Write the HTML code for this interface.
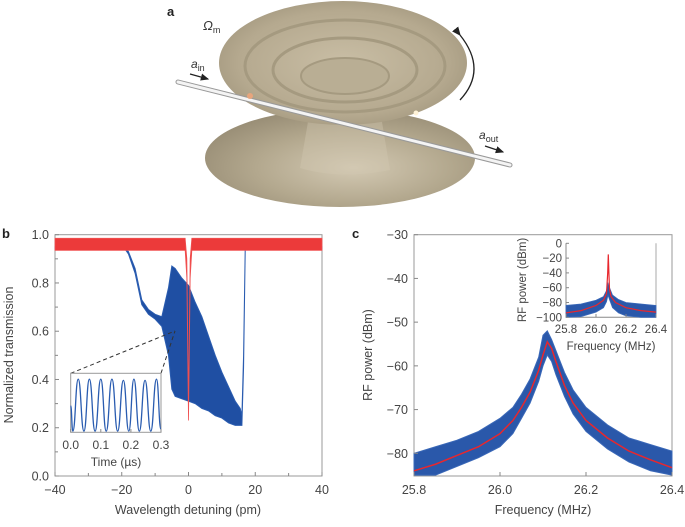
<!DOCTYPE html>
<html><head><meta charset="utf-8">
<style>
html,body{margin:0;padding:0;background:#fff;}
svg text{font-family:"Liberation Sans",sans-serif;fill:#444;}
</style></head>
<body>
<svg id="fig" width="685" height="522" viewBox="0 0 685 522" xmlns="http://www.w3.org/2000/svg">
<defs>
<radialGradient id="topg" cx="0.5" cy="0.5" r="0.6"><stop offset="0" stop-color="#c9bea5"/><stop offset="0.7" stop-color="#b5a98f"/><stop offset="1" stop-color="#9e937a"/></radialGradient>
<radialGradient id="botg" cx="0.55" cy="0.6" r="0.6"><stop offset="0" stop-color="#d3c9b3"/><stop offset="0.6" stop-color="#b3a88e"/><stop offset="1" stop-color="#9a8f77"/></radialGradient>
<marker id="ah" markerWidth="8" markerHeight="8" refX="6" refY="4" orient="auto"><path d="M0,1 L7,4 L0,7 Z" fill="#222"/></marker>
</defs>
<g>
<text x="167" y="16" font-size="13" font-weight="bold" style="fill:#222">a</text>
<ellipse cx="340" cy="158" rx="135" ry="49" fill="url(#botg)"/>
<path d="M310,110 Q340,100 380,110 L390,170 Q340,180 300,168 Z" fill="#d2c8b2" opacity="0.4"/>
<ellipse cx="343" cy="63" rx="124" ry="62" fill="url(#topg)"/>
<ellipse cx="345" cy="66" rx="100" ry="46" fill="none" stroke="#a59a80" stroke-width="3"/>
<ellipse cx="345" cy="70" rx="72" ry="32" fill="none" stroke="#a59a80" stroke-width="3"/>
<ellipse cx="345" cy="76" rx="44" ry="18" fill="#b9ae94" stroke="#a59a80" stroke-width="2"/>
<line x1="178" y1="82" x2="510" y2="165" stroke="#999" stroke-width="5" stroke-linecap="round"/>
<line x1="178" y1="82" x2="510" y2="165" stroke="#f4f4f4" stroke-width="3" stroke-linecap="round"/>
<circle cx="250" cy="96" r="3" fill="#e7a57d"/><circle cx="416" cy="113" r="2.5" fill="#fff3d8"/>
<path d="M460,35 Q488,70 460,100" fill="none" stroke="#222" stroke-width="1.3" marker-start="url(#ah)"/>
<text x="203" y="30" font-size="13" font-style="italic" style="fill:#333">Ω<tspan font-size="9" font-style="normal" dy="3">m</tspan></text>
<text x="191" y="68" font-size="12" font-style="italic" style="fill:#333">a<tspan font-size="9" font-style="normal" dy="3">in</tspan></text>
<line x1="190" y1="74" x2="208" y2="79" stroke="#222" stroke-width="1.2" marker-end="url(#ah)"/>
<text x="479" y="139" font-size="12" font-style="italic" style="fill:#333">a<tspan font-size="9" font-style="normal" dy="3">out</tspan></text>
<line x1="485" y1="146" x2="503" y2="152" stroke="#222" stroke-width="1.2" marker-end="url(#ah)"/>
</g>
<g id="pb"></g>
<g id="pc"></g>
</svg>
<script>
const NS="http://www.w3.org/2000/svg";
function mk(parent,tag,attrs,txt){const e=document.createElementNS(NS,tag);for(const k in attrs)e.setAttribute(k,attrs[k]);if(txt!==undefined)e.textContent=txt;parent.appendChild(e);return e;}
function lin(d0,d1,r0,r1){return v=>r0+(v-d0)*(r1-r0)/(d1-d0);}

// ---------- Panel b data ----------
const bXTicks=[-40,-20,0,20,40];
const bYTicks=[0.0,0.2,0.4,0.6,0.8,1.0];
const bRedX=[-40,-1,-0.5,0,0.5,1,40];
const bRedHi=[0.985,0.985,0.9,0.3,0.9,0.985,0.985];
const bRedLo=[0.935,0.935,0.82,0.23,0.82,0.935,0.935];
const bBlueX=[-40,-19,-18,-16,-14,-12,-10,-8,-6,-5,-4,-2,0,2,4,6,8,10,12,14,15.5,16,16.5,17,40];
const bBlueHi=[0.95,0.95,0.93,0.86,0.73,0.69,0.67,0.66,0.78,0.87,0.86,0.82,0.79,0.72,0.66,0.58,0.5,0.43,0.37,0.31,0.28,0.25,0.5,0.95,0.95];
const bBlueLo=[0.94,0.94,0.92,0.84,0.71,0.67,0.65,0.62,0.5,0.36,0.33,0.32,0.31,0.3,0.28,0.27,0.25,0.24,0.22,0.21,0.21,0.21,0.45,0.94,0.94];
const bInsetT=[0,0.007,0.025,0.044,0.062,0.081,0.1,0.118,0.137,0.156,0.175,0.193,0.21,0.228,0.247,0.266,0.285,0.3];
const bInsetV=[0.45,0.02,0.9,0.02,0.9,0.02,0.9,0.02,0.9,0.02,0.88,0.02,0.9,0.02,0.88,0.02,0.9,0.05];
const bInsetTicks=[0.0,0.1,0.2,0.3];

(function(){
const g=document.getElementById('pb');
const x=lin(-40,40,55,322), y=lin(0,1,476,234.7);
let t=mk(g,'text',{x:2,y:238,'font-size':13,'font-weight':'bold',style:'fill:#222'},'b');

let fr=mk(g,'rect',{x:55,y:234.7,width:267,height:241.3,fill:'none',stroke:'#999','stroke-width':1});

let pts=bBlueX.map((v,i)=>x(v)+','+y(bBlueHi[i]));
for(let i=bBlueX.length-1;i>=0;i--)pts.push(x(bBlueX[i])+','+y(bBlueLo[i]));
let bl=mk(g,'polygon',{points:pts.join(' '),fill:'#1f4fa3',stroke:'#2a5cb0','stroke-width':1});

pts=bRedX.map((v,i)=>x(v)+','+y(bRedHi[i]));
for(let i=bRedX.length-1;i>=0;i--)pts.push(x(bRedX[i])+','+y(bRedLo[i]));
let rd=mk(g,'polygon',{points:pts.join(' '),fill:'#ec3a3a',stroke:'#f05050','stroke-width':0.8});

bYTicks.forEach(v=>{
 mk(g,'line',{x1:55,x2:59,y1:y(v),y2:y(v),stroke:'#888'});
 if(v<1)mk(g,'line',{x1:55,x2:58,y1:y(v+0.1),y2:y(v+0.1),stroke:'#888'});
 let e=mk(g,'text',{x:49,y:y(v)+4.5,'font-size':12.5,'text-anchor':'end'},v.toFixed(1));
 });
bXTicks.forEach(v=>{
 mk(g,'line',{x1:x(v),x2:x(v),y1:476,y2:472,stroke:'#888'});
 if(v<40)mk(g,'line',{x1:x(v+10),x2:x(v+10),y1:476,y2:473,stroke:'#888'});
 let e=mk(g,'text',{x:x(v),y:494,'font-size':12.5,'text-anchor':'middle'},v<0?'\u2212'+(-v):String(v));
 });
let xt=mk(g,'text',{x:188,y:514,'font-size':12.5,'text-anchor':'middle'},'Wavelength detuning (pm)');

let yt=mk(g,'text',{x:0,y:0,'font-size':12.5,'text-anchor':'middle',transform:'translate(13,355) rotate(-90)'},'Normalized transmission');

const ix=lin(0,0.3,70.7,161), iy=lin(0,1,432.3,373.3);
mk(g,'line',{x1:70.7,y1:373.3,x2:175,y2:331,stroke:'#333','stroke-dasharray':'4,3'});
mk(g,'line',{x1:161,y1:373.3,x2:175,y2:331,stroke:'#333','stroke-dasharray':'4,3'});
let ib=mk(g,'rect',{x:70.7,y:373.3,width:90.3,height:59,fill:'#fff',stroke:'#999'});

let d='M'+ix(bInsetT[0])+','+iy(bInsetV[0]);
for(let i=1;i<bInsetT.length;i++){const x0=ix(bInsetT[i-1]),x1=ix(bInsetT[i]),mx=(x0+x1)/2;d+=' C'+mx+','+iy(bInsetV[i-1])+' '+mx+','+iy(bInsetV[i])+' '+x1+','+iy(bInsetV[i]);}
let iw=mk(g,'path',{d:d,fill:'none',stroke:'#2a5cb0','stroke-width':1.3});

bInsetTicks.forEach(v=>{mk(g,'line',{x1:ix(v),x2:ix(v),y1:432.3,y2:429,stroke:'#888'});
 let e=mk(g,'text',{x:ix(v),y:449,'font-size':12,'text-anchor':'middle'},v.toFixed(1));
 });
let it=mk(g,'text',{x:116,y:466,'font-size':12,'text-anchor':'middle'},'Time (\u00b5s)');

})();

// ---------- Panel c data ----------
const cXTicks=[25.8,26.0,26.2,26.4];
const cYTicks=[-30,-40,-50,-60,-70,-80];
const cFitX=[25.8,25.85,25.9,25.95,26.0,26.03,26.05,26.07,26.09,26.1,26.11,26.12,26.13,26.15,26.17,26.2,26.25,26.3,26.35,26.4];
const cFitY=[-84,-82.5,-80.5,-78.5,-75.5,-72.5,-69.5,-66,-61,-57.5,-54.5,-56,-59,-64.5,-68.5,-72.5,-76.5,-79.5,-81.5,-83.3];
const cNoiseX=[25.8,25.85,25.9,25.95,26.0,26.03,26.05,26.07,26.09,26.1,26.11,26.12,26.13,26.15,26.17,26.2,26.25,26.3,26.35,26.4];
const cNoiseHi=[-80,-78.5,-77,-75,-72,-69.5,-66.5,-63,-58,-53,-52,-54,-56.5,-61.5,-65.5,-69.5,-73.5,-76.5,-78,-79.5];
const cNoiseLo=[-85,-85,-83,-81,-78.5,-75.5,-72,-68.5,-63.5,-60,-57.5,-59,-62,-67,-71,-75,-79,-82,-84,-85];
const ciXTicks=[25.8,26.0,26.2,26.4];
const ciYTicks=[0,-20,-40,-60,-80,-100];
const ciFitX=[25.8,25.9,26.0,26.05,26.07,26.078,26.082,26.086,26.09,26.1,26.13,26.2,26.3,26.4];
const ciFitY=[-94,-91,-84,-77,-68,-40,-15,-40,-62,-72,-80,-87,-91,-93];
const ciNoiseX=[25.8,25.9,26.0,26.05,26.07,26.08,26.09,26.11,26.15,26.2,26.3,26.4];
const ciNoiseHi=[-84,-82,-77,-72,-64,-54,-60,-70,-76,-80,-82,-84];
const ciNoiseLo=[-100,-99,-93,-87,-79,-70,-76,-87,-94,-98,-100,-100];

(function(){
const g=document.getElementById('pc');
const x=lin(25.8,26.4,414,672), y=lin(-30,-80,234.7,453.3);
let t=mk(g,'text',{x:352,y:238,'font-size':13,'font-weight':'bold',style:'fill:#222'},'c');

let fr=mk(g,'rect',{x:414,y:234.7,width:258,height:241.3,fill:'none',stroke:'#999'});

let pts=cNoiseX.map((v,i)=>x(v)+','+y(cNoiseHi[i]));
for(let i=cNoiseX.length-1;i>=0;i--)pts.push(x(cNoiseX[i])+','+y(cNoiseLo[i]));
let bl=mk(g,'polygon',{points:pts.join(' '),fill:'#2a58aa',stroke:'#3a68b8','stroke-width':1});

let rd=mk(g,'polyline',{points:cFitX.map((v,i)=>x(v)+','+y(cFitY[i])).join(' '),fill:'none',stroke:'#e8272d','stroke-width':1.5});

cYTicks.forEach(v=>{mk(g,'line',{x1:414,x2:418,y1:y(v),y2:y(v),stroke:'#888'});
 let e=mk(g,'text',{x:408,y:y(v)+4.5,'font-size':12.5,'text-anchor':'end'},'\u2212'+(-v));
 });
cXTicks.forEach(v=>{mk(g,'line',{x1:x(v),x2:x(v),y1:476,y2:472,stroke:'#888'});
 let e=mk(g,'text',{x:x(v),y:494,'font-size':12.5,'text-anchor':'middle'},v.toFixed(1));
 });
let xt=mk(g,'text',{x:543,y:514,'font-size':12.5,'text-anchor':'middle'},'Frequency (MHz)');

let yt=mk(g,'text',{x:0,y:0,'font-size':12.5,'text-anchor':'middle',transform:'translate(372,355) rotate(-90)'},'RF power (dBm)');

const ix=lin(25.8,26.4,566,656), iy=lin(0,-100,243.3,317.3);
mk(g,'line',{x1:656,x2:656,y1:243.3,y2:317.3,stroke:'#aaa'});
mk(g,'line',{x1:566,x2:566,y1:243.3,y2:317.3,stroke:'#888'});
mk(g,'line',{x1:566,x2:656,y1:317.3,y2:317.3,stroke:'#888'});
pts=ciNoiseX.map((v,i)=>ix(v)+','+iy(ciNoiseHi[i]));
for(let i=ciNoiseX.length-1;i>=0;i--)pts.push(ix(ciNoiseX[i])+','+iy(ciNoiseLo[i]));
let ibl=mk(g,'polygon',{points:pts.join(' '),fill:'#2a58aa',stroke:'#3a68b8','stroke-width':0.8});

let ird=mk(g,'polyline',{points:ciFitX.map((v,i)=>ix(v)+','+iy(ciFitY[i])).join(' '),fill:'none',stroke:'#e8272d','stroke-width':1.2});

ciYTicks.forEach(v=>{mk(g,'line',{x1:566,x2:569,y1:iy(v),y2:iy(v),stroke:'#888'});
 let e=mk(g,'text',{x:562,y:iy(v)+4,'font-size':11.5,'text-anchor':'end'},v===0?'0':'\u2212'+(-v));
 });
ciXTicks.forEach(v=>{mk(g,'line',{x1:ix(v),x2:ix(v),y1:317.3,y2:314,stroke:'#888'});
 let e=mk(g,'text',{x:ix(v),y:333,'font-size':11.5,'text-anchor':'middle'},v.toFixed(1));
 });
let ixt=mk(g,'text',{x:611,y:350,'font-size':11.5,'text-anchor':'middle'},'Frequency (MHz)');

let iyt=mk(g,'text',{x:0,y:0,'font-size':11.5,'text-anchor':'middle',transform:'translate(526,280) rotate(-90)'},'RF power (dBm)');

})();
</script>
</body></html>
